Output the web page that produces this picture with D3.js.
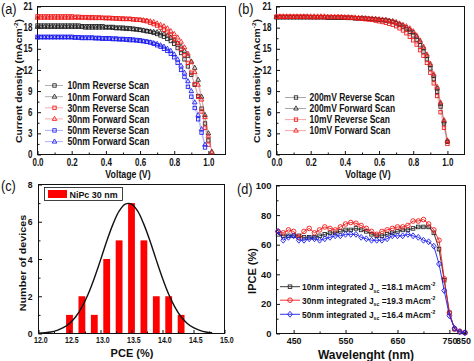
<!DOCTYPE html>
<html><head><meta charset="utf-8">
<script src="https://cdn.jsdelivr.net/npm/d3@7"></script>
<style>body{margin:0;background:#fff}svg{display:block}text{font-family:"Liberation Sans",Arial,sans-serif}</style>
</head><body><svg id="c" width="474" height="361"></svg>
<script>
// ---------- DATA ----------
const voltage=[0,0.02,0.04,0.06,0.08,0.10,0.12,0.14,0.16,0.18,0.20,0.22,0.24,0.26,0.28,0.30,0.32,0.34,0.36,0.38,0.40,0.42,0.44,0.46,0.48,0.50,0.52,0.54,0.56,0.58,0.60,0.62,0.64,0.66,0.68,0.70,0.72,0.74,0.76,0.78,0.80,0.82,0.84,0.86,0.88,0.90,0.92,0.94,0.96,0.98,1.00,1.02];
// panel (a)
const j10Rev=[18.3,18.3,18.3,18.3,18.3,18.3,18.3,18.3,18.3,18.3,18.3,18.3,18.3,18.2,18.2,18.2,18.2,18.2,18.2,18.2,18.1,18.1,18.1,18.0,18.0,18.0,17.95,17.9,17.85,17.8,17.7,17.6,17.5,17.4,17.25,17.1,16.9,16.7,16.4,16.1,15.7,15.1,14.4,13.5,12.5,11.3,9.9,8.3,6.5,4.4,2.0];
const j10Fwd=[18.1,18.1,18.1,18.1,18.1,18.1,18.1,18.1,18.1,18.1,18.1,18.1,18.1,18.1,18.0,18.0,18.0,18.0,18.0,18.0,18.0,18.0,17.95,17.9,17.9,17.85,17.8,17.8,17.75,17.7,17.65,17.6,17.5,17.45,17.4,17.35,17.25,17.1,16.9,16.6,16.2,15.8,15.3,14.7,14.0,13.2,12.3,10.6,8.2,5.6,3.0,0.4];
const j30Rev=[19.6,19.6,19.6,19.6,19.6,19.6,19.6,19.6,19.6,19.6,19.6,19.55,19.55,19.5,19.5,19.5,19.5,19.45,19.45,19.4,19.4,19.4,19.35,19.35,19.3,19.3,19.25,19.25,19.2,19.15,19.1,19.0,18.9,18.7,18.5,18.3,18.0,17.7,17.3,16.9,16.4,15.8,15.0,14.1,13.0,11.6,10.0,8.2,6.1,3.8,1.4];
const j30Fwd=[19.4,19.4,19.4,19.4,19.4,19.4,19.4,19.4,19.4,19.4,19.4,19.4,19.4,19.4,19.4,19.35,19.35,19.35,19.35,19.35,19.3,19.3,19.3,19.25,19.25,19.2,19.2,19.2,19.15,19.1,19.1,19.05,19.0,18.9,18.8,18.6,18.4,18.2,17.9,17.5,17.1,16.6,16.0,15.2,14.3,13.1,11.7,9.9,7.8,5.3,2.6,0.3];
const j50Rev=[16.7,16.7,16.7,16.7,16.7,16.7,16.7,16.7,16.7,16.7,16.7,16.65,16.65,16.6,16.6,16.6,16.6,16.55,16.55,16.5,16.5,16.5,16.45,16.45,16.4,16.4,16.35,16.35,16.3,16.25,16.2,16.1,16.0,15.9,15.7,15.5,15.3,15.0,14.7,14.3,13.8,13.0,12.0,11.0,9.6,8.2,6.6,5.0,3.1,1.0];
const j50Fwd=[16.6,16.6,16.6,16.6,16.6,16.6,16.6,16.6,16.6,16.6,16.6,16.55,16.55,16.5,16.5,16.5,16.5,16.45,16.45,16.4,16.4,16.4,16.35,16.35,16.3,16.3,16.25,16.2,16.2,16.15,16.1,16.05,16.0,15.9,15.8,15.7,15.5,15.3,15.0,14.7,14.2,13.5,12.6,11.6,10.4,9.0,7.4,5.6,3.6,1.4];
// panel (b)
const j200Rev=[19.5,19.5,19.5,19.5,19.5,19.5,19.5,19.5,19.5,19.5,19.5,19.5,19.5,19.5,19.5,19.45,19.45,19.45,19.45,19.45,19.4,19.4,19.4,19.35,19.35,19.3,19.3,19.25,19.2,19.15,19.1,19.05,19.0,18.9,18.8,18.6,18.4,18.1,17.8,17.4,16.9,16.3,15.5,14.6,13.5,12.2,10.7,8.9,6.8,4.4,1.8];
const j200Fwd=[19.45,19.45,19.45,19.45,19.45,19.45,19.45,19.45,19.45,19.45,19.45,19.45,19.45,19.45,19.45,19.4,19.4,19.4,19.4,19.4,19.4,19.35,19.35,19.3,19.3,19.3,19.25,19.25,19.2,19.2,19.15,19.1,19.05,19.0,18.9,18.7,18.5,18.3,18.0,17.7,17.3,16.7,16.0,15.1,14.0,12.7,11.2,9.4,7.2,4.7,1.9];
const j10mRev=[19.55,19.55,19.55,19.55,19.55,19.55,19.55,19.55,19.55,19.55,19.5,19.5,19.5,19.5,19.5,19.5,19.5,19.5,19.5,19.5,19.45,19.4,19.4,19.35,19.3,19.25,19.2,19.15,19.1,19.0,18.9,18.8,18.7,18.55,18.4,18.2,17.9,17.6,17.2,16.7,16.2,15.6,14.8,14.0,13.0,11.6,10.1,8.3,6.0,3.8,1.5];
const j10mFwd=[19.6,19.6,19.6,19.6,19.6,19.6,19.6,19.6,19.6,19.6,19.6,19.6,19.6,19.6,19.6,19.55,19.55,19.55,19.55,19.55,19.5,19.5,19.45,19.45,19.4,19.4,19.35,19.3,19.3,19.25,19.2,19.15,19.1,19.0,18.9,18.8,18.6,18.4,18.2,17.9,17.5,16.9,16.2,15.3,14.2,12.9,11.4,9.6,7.4,4.9,2.0];
// panel (c)
const pceBins=[12.5,12.7,12.9,13.1,13.3,13.5,13.7,13.9,14.1,14.3];
const deviceCounts=[1,2,1,4,5,7,5,2,2,1];
const fitPce=[12.0,12.1,12.2,12.3,12.4,12.5,12.6,12.7,12.8,12.9,13.0,13.1,13.2,13.3,13.4,13.5,13.6,13.7,13.8,13.9,14.0,14.1,14.2,14.3,14.4,14.5,14.6,14.7,14.8];
const fitCount=[0.02,0.04,0.08,0.17,0.31,0.54,0.90,1.42,2.11,2.97,3.94,4.95,5.86,6.57,6.95,6.95,6.57,5.86,4.95,3.94,2.97,2.11,1.42,0.90,0.54,0.31,0.17,0.08,0.04];
// panel (d)
const wavelength=[420,430,440,450,460,470,480,490,500,510,520,530,540,550,560,570,580,590,600,610,620,630,640,650,660,670,680,690,700,710,720,730,740,750,760,770,780];
const ipce10=[67,66,66,66,66,65,65,65,66,67,68,68,69,70,70,71,70,69,67,66,66,67,68,69,70,70,71,72,72,72,68,57,36,14,3,1,0.5];
const ipce30=[69,68,70,69,65,69,71,68,70,72,71,70,72,74,75,74.5,73,71,69,67,69,70,71,72,72,73,76,76,77,74,70,63,37,14,3,1.5,0.5];
const ipce50=[69,63,65,66,63,63,64,64,63,64,65,66,66,67,67,67,65,64,63,63,63,64,66,66,66,67,66,65,63,62,59,47,29,12,3.5,1.2,0.5];
// ticks & labels
const ticksJV=[0,3,6,9,12,15,18,21];
const ticksV=[0,0.2,0.4,0.6,0.8,1.0];
const ticksPCE=[12.0,12.5,13.0,13.5,14.0,14.5,15.0];
const ticksN=[0,2,4,6,8];
const ticksWl=[450,550,650,750];
const endLabelWl="850";
const ticksIPCE=[0,20,40,60,80,100];
const legA=["10nm Reverse Scan","10nm Forward Scan","30nm Reverse Scan","30nm Forward Scan","50nm Reverse Scan","50nm Forward Scan"];
const legB=["200mV Reverse Scan","200mV Forward Scan","10mV Reverse Scan","10mV Forward Scan"];
const legD=[["10nm","18.1"],["30nm","19.3"],["50nm","16.4"]];

// ---------- DRAWING ----------
const svg=d3.select('#c');
const INK='#111';
const BLK='#222', RED='#f01818', BLU='#1c1cf0';

function txt(g,x,y,parts,o={}){
  const size=o.size||10;
  const t=g.append('text')
    .attr('transform',`translate(${x},${y}) scale(${o.k??1},1)${o.rot?` rotate(${o.rot})`:''}`)
    .attr('font-size',size).attr('font-weight',o.w||'bold')
    .attr('text-anchor',o.a||'start').attr('fill',INK);
  if(typeof parts==='string'){t.text(parts);return t;}
  parts.forEach(p=>{
    const ts=t.append('tspan').text(p.t);
    if(p.s==='sup') ts.attr('dy',-size*0.42).attr('font-size',size*0.62);
    else if(p.s==='sub') ts.attr('dy',size*0.28).attr('font-size',size*0.62);
    if(p.back) ts.attr('dy',p.back);
  });
  return t;
}

function squeezeTicks(sel,k,size,dx){
  sel.selectAll('text').each(function(){
    const t=d3.select(this);
    const x=(+t.attr('x')||0)+(dx||0),y=+t.attr('y')||0;
    t.attr('x',0).attr('y',0).attr('transform',`translate(${x},${y}) scale(${k},1)`);
  }).attr('font-size',size).attr('font-weight','bold').attr('fill',INK)
    .style('font-family','"Liberation Sans",Arial,sans-serif');
}

function axes(g,xs,ys,o){
  const [x0,x1]=xs.range(),[y0,y1]=ys.range();
  const bx=g.append('g').attr('transform',`translate(0,${y0})`)
    .call(d3.axisBottom(xs).tickValues(o.xt).tickFormat(o.xf).tickSize(-3.5).tickSizeOuter(0).tickPadding(o.xpad??5));
  bx.select('.domain').remove();
  squeezeTicks(bx,o.kx,o.fsx||o.fs,o.xdx);
  if(o.xm){const m=g.append('g').attr('transform',`translate(0,${y0})`).call(d3.axisBottom(xs).tickValues(o.xm).tickFormat('').tickSize(-2).tickSizeOuter(0));m.select('.domain').remove();}
  const ly=g.append('g').attr('transform',`translate(${x0},0)`)
    .call(d3.axisLeft(ys).tickValues(o.yt).tickFormat(o.yf).tickSize(-3.5).tickSizeOuter(0).tickPadding(o.ypad??5));
  ly.select('.domain').remove();
  squeezeTicks(ly,o.ky,o.fs);
  if(o.ym){const m=g.append('g').attr('transform',`translate(${x0},0)`).call(d3.axisLeft(ys).tickValues(o.ym).tickFormat('').tickSize(-2).tickSizeOuter(0));m.select('.domain').remove();}
  g.selectAll('.tick line').attr('stroke',INK);
  g.append('rect').attr('x',x0).attr('y',y1).attr('width',x1-x0).attr('height',y0-y1)
    .attr('fill','none').attr('stroke',INK).attr('stroke-width',1);
  return bx;
}

function marker(g,type,x,y,color,sz){
  const s=sz||1;
  if(type==='sq') g.append('rect').attr('x',x-1.7*s).attr('y',y-1.7*s).attr('width',3.4*s).attr('height',3.4*s).attr('fill','none').attr('stroke',color).attr('stroke-width',0.85);
  else if(type==='tri') g.append('path').attr('d',`M${x},${y-2.6*s}L${x+2.3*s},${y+1.5*s}L${x-2.3*s},${y+1.5*s}Z`).attr('fill','none').attr('stroke',color).attr('stroke-width',0.85);
  else if(type==='circ') g.append('circle').attr('cx',x).attr('cy',y).attr('r',2.2*s).attr('fill','none').attr('stroke',color).attr('stroke-width',0.9);
  else if(type==='dia') g.append('path').attr('d',`M${x},${y-2.8*s}L${x+2.3*s},${y}L${x},${y+2.8*s}L${x-2.3*s},${y}Z`).attr('fill','none').attr('stroke',color).attr('stroke-width',0.9);
}

function jvSeries(g,xs,ys,vals,type,color){
  const pts=vals.map((j,i)=>[voltage[i],j]);
  g.append('path').attr('d',d3.line().x(d=>xs(d[0])).y(d=>ys(d[1]))(pts))
    .attr('fill','none').attr('stroke',color).attr('stroke-opacity',0.45).attr('stroke-width',0.6);
  pts.forEach(d=>marker(g,type,xs(d[0]),ys(d[1]),color));
}

const KAB=0.8;
const fmt1=d3.format('.1f');

// ---- panel (a)
{
  const g=svg.append('g');
  const xs=d3.scaleLinear([0,1.1],[37.5,225.5]);
  const ys=d3.scaleLinear([0,21],[154.5,6.5]);
  axes(g,xs,ys,{xt:ticksV,xf:fmt1,yt:ticksJV,yf:d3.format('d'),kx:KAB,ky:KAB,fs:10,xpad:4.5,
    xm:[0.1,0.3,0.5,0.7,0.9],ym:[1.5,4.5,7.5,10.5,13.5,16.5,19.5]});
  const series=[[j10Rev,'sq',BLK],[j10Fwd,'tri',BLK],[j30Rev,'sq',RED],[j30Fwd,'tri',RED],[j50Rev,'sq',BLU],[j50Fwd,'tri',BLU]];
  series.forEach(s=>jvSeries(g,xs,ys,s[0],s[1],s[2]));
  const rows=[85.5,96.7,107.8,118.9,130.4,141.6];
  series.forEach((s,i)=>{
    g.append('line').attr('x1',45).attr('x2',63).attr('y1',rows[i]).attr('y2',rows[i]).attr('stroke',s[2]).attr('stroke-opacity',0.45).attr('stroke-width',0.8);
    marker(g,s[1],54.5,rows[i],s[2]);
    txt(g,67.5,rows[i]+3.8,legA[i],{size:10.8,k:KAB});
  });
  txt(g,1,13.5,'(a)',{size:15,w:'normal',k:0.85});
  txt(g,128,178,'Voltage (V)',{size:11,k:KAB,a:'middle'});
  txt(g,21.5,81,[{t:'Current density (mAcm'},{t:'-2',s:'sup'},{t:')',back:10.4*0.42}],{size:10.4,k:KAB,a:'middle',rot:-90});
}
// ---- panel (b)
{
  const g=svg.append('g');
  const xs=d3.scaleLinear([0,1.1],[276.5,464.5]);
  const ys=d3.scaleLinear([0,21],[154.5,6.5]);
  axes(g,xs,ys,{xt:ticksV,xf:fmt1,yt:ticksJV,yf:d3.format('d'),kx:KAB,ky:KAB,fs:10,xpad:4.5,
    xm:[0.1,0.3,0.5,0.7,0.9],ym:[1.5,4.5,7.5,10.5,13.5,16.5,19.5]});
  const series=[[j200Rev,'sq',BLK],[j200Fwd,'tri',BLK],[j10mRev,'sq',RED],[j10mFwd,'tri',RED]];
  series.forEach(s=>jvSeries(g,xs,ys,s[0],s[1],s[2]));
  const rows=[97.5,108.5,119.6,130.6];
  series.forEach((s,i)=>{
    g.append('line').attr('x1',285).attr('x2',306).attr('y1',rows[i]).attr('y2',rows[i]).attr('stroke',s[2]).attr('stroke-opacity',0.5).attr('stroke-width',0.8);
    marker(g,s[1],296,rows[i],s[2]);
    txt(g,309.5,rows[i]+3.8,legB[i],{size:10.6,k:KAB});
  });
  txt(g,238,13.5,'(b)',{size:15,w:'normal',k:0.85});
  txt(g,368,178,'Voltage (V)',{size:11,k:KAB,a:'middle'});
  txt(g,259.5,81,[{t:'Current density (mAcm'},{t:'-2',s:'sup'},{t:')',back:10.4*0.42}],{size:10.4,k:KAB,a:'middle',rot:-90});
}
// ---- panel (c)
{
  const g=svg.append('g');
  const xs=d3.scaleLinear([12,15],[38.5,224.5]);
  const ys=d3.scaleLinear([0,8],[333.5,184.5]);
  const bw=xs(12.11)-xs(12);
  g.selectAll('rect.bar').data(pceBins).join('rect').attr('class','bar')
    .attr('x',d=>xs(d)-bw/2).attr('width',bw)
    .attr('y',(d,i)=>ys(deviceCounts[i])).attr('height',(d,i)=>ys(0)-ys(deviceCounts[i]))
    .attr('fill','#f00');
  g.append('path').attr('d',d3.line().curve(d3.curveCatmullRom).x((d,i)=>xs(d)).y((d,i)=>ys(fitCount[i]))(fitPce))
    .attr('fill','none').attr('stroke','#111').attr('stroke-width',1.4);
  axes(g,xs,ys,{xt:ticksPCE,xf:fmt1,yt:ticksN,yf:d3.format('d'),kx:0.78,ky:0.9,fs:9.6,fsx:9,xpad:3,xdx:1.8,ypad:6,
    xm:[12.25,12.75,13.25,13.75,14.25,14.75],ym:[1,3,5,7]});
  g.append('rect').attr('x',44.5).attr('y',187.5).attr('width',78).attr('height',13).attr('fill','#fff').attr('stroke',INK).attr('stroke-width',0.8);
  g.append('rect').attr('x',48).attr('y',190).attr('width',19).attr('height',8).attr('fill','#f00');
  txt(g,69.5,197.8,'NiPc 30 nm',{size:9.4,k:0.95});
  txt(g,1,191,'(c)',{size:15,w:'normal',k:0.85});
  txt(g,132,357,'PCE (%)',{size:11,k:1,a:'middle'});
  txt(g,26,263,'Number of devices',{size:10.8,k:0.9,a:'middle',rot:-90});
}
// ---- panel (d)
{
  const g=svg.append('g');
  const xs=d3.scaleLinear([417,781],[276.5,465.5]);
  const ys=d3.scaleLinear([0,100],[333.5,185.5]);
  axes(g,xs,ys,{xt:ticksWl,xf:d3.format('d'),yt:ticksIPCE,yf:d3.format('d'),kx:0.95,ky:1,fs:9.4,xpad:3.5,
    xm:[500,600,700],ym:[10,30,50,70,90]});
  // last axis label sits at the right end of the axis in the reference
  txt(g,xs.range()[1]-2,333.5+3.5+9.4*0.71+0.3,endLabelWl,{size:9.4,k:0.95,a:'middle'});
  const series=[[ipce10,'sq',BLK],[ipce30,'circ',RED],[ipce50,'dia',BLU]];
  series.forEach(s=>{
    g.append('path').attr('d',d3.line().x((d,i)=>xs(wavelength[i])).y(d=>ys(d))(s[0]))
      .attr('fill','none').attr('stroke',s[2]).attr('stroke-width',0.9);
    s[0].forEach((v,i)=>marker(g,s[1],xs(wavelength[i]),ys(v),s[2],1.05));
  });
  const rows=[286.7,300.2,314.3];
  series.forEach((s,i)=>{
    g.append('line').attr('x1',280).attr('x2',300).attr('y1',rows[i]).attr('y2',rows[i]).attr('stroke',s[2]).attr('stroke-width',0.9);
    marker(g,s[1],290,rows[i],s[2],1.05);
    txt(g,302,rows[i]+3.3,[{t:legD[i][0]+' integrated J'},{t:'sc',s:'sub'},{t:' =',back:-9*0.28},{t:legD[i][1]+' mAcm'},{t:'-2',s:'sup'}],{size:9,k:0.93});
  });
  txt(g,237,194,'(d)',{size:15,w:'normal',k:0.85});
  txt(g,366,358.5,'Wavelenght (nm)',{size:12,k:1,a:'middle'});
  txt(g,256,271,'IPCE (%)',{size:11,k:0.95,a:'middle',rot:-90});
}
</script></body></html>
